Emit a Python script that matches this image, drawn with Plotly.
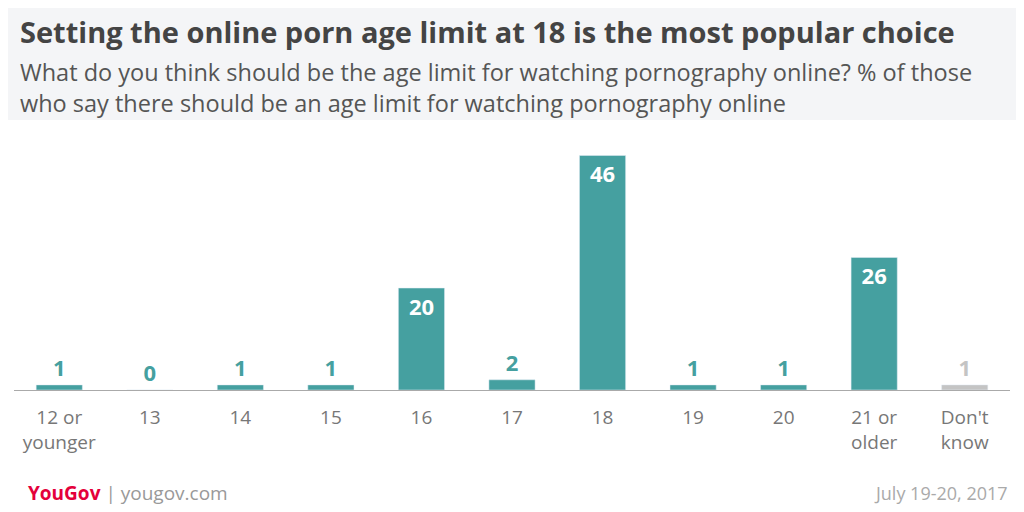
import plotly.graph_objects as go

categories = ["12 or<br>younger", "13", "14", "15", "16", "17", "18", "19", "20", "21 or<br>older", "Don't<br>know"]
values = [1, 0, 1, 1, 20, 2, 46, 1, 1, 26, 1]

teal = "#45a0a0"
grey = "#c4c4c4"
bar_colors = [teal] * 10 + [grey]
positions = ["inside" if v >= 10 else "outside" for v in values]
text_colors = ["white" if v >= 10 else teal for v in values[:-1]] + [grey]

# page body has an 8px margin, so the figure is shifted up-left by that amount
fig = go.Figure()
fig.add_trace(go.Bar(
    x=categories, y=values, marker_color=bar_colors,
    text=["<b>%d</b>" % v for v in values], textposition=positions,
    insidetextanchor="end", cliponaxis=False,
    textfont=dict(family="Open Sans", size=22, color=text_colors),
))

fig.add_shape(type="rect", xref="paper", yref="paper", x0=-0.02, x1=1.03, y0=1.0 + 10 / 260, y1=1.0 + 122 / 260,
              fillcolor="#f4f5f7", line_width=0, layer="below")

fig.update_layout(
    width=1024, height=512,
    margin=dict(l=6, r=22, t=122, b=130),
    paper_bgcolor="white", plot_bgcolor="white",
    bargap=0.49, showlegend=False,
    font=dict(family="Open Sans", color="#555"),
    xaxis=dict(tickfont=dict(size=19, color="#777"), showline=True, linecolor="#aaa", linewidth=1,
               ticks="", ticklabelstandoff=10, fixedrange=True),
    yaxis=dict(range=[0, 51], visible=False),
)

fig.add_annotation(text="<b>Setting the online porn age limit at 18 is the most popular choice</b>",
                   xref="paper", yref="paper", x=0, y=1 + 99 / 260, xanchor="left", yanchor="middle",
                   showarrow=False, font=dict(size=29, color="#444"), xshift=4)
fig.add_annotation(text="What do you think should be the age limit for watching pornography online? % of those<br>who say there should be an age limit for watching pornography online",
                   xref="paper", yref="paper", x=0, y=1 + 42 / 260, xanchor="left", yanchor="middle", align="left",
                   showarrow=False, font=dict(size=23.5, color="#555"), xshift=4)
fig.add_annotation(text="<b><span style='color:#e4003b'>YouGov</span></b> <span style='color:#999'>| yougov.com</span>",
                   xref="paper", yref="paper", x=0, y=-103 / 260, xanchor="left", yanchor="middle",
                   showarrow=False, font=dict(size=19), xshift=12)
fig.add_annotation(text="July 19-20, 2017", xref="paper", yref="paper", x=1, y=-103 / 260,
                   xanchor="right", yanchor="middle", showarrow=False, font=dict(size=18, color="#aaa"))

fig.write_html("out.html")
